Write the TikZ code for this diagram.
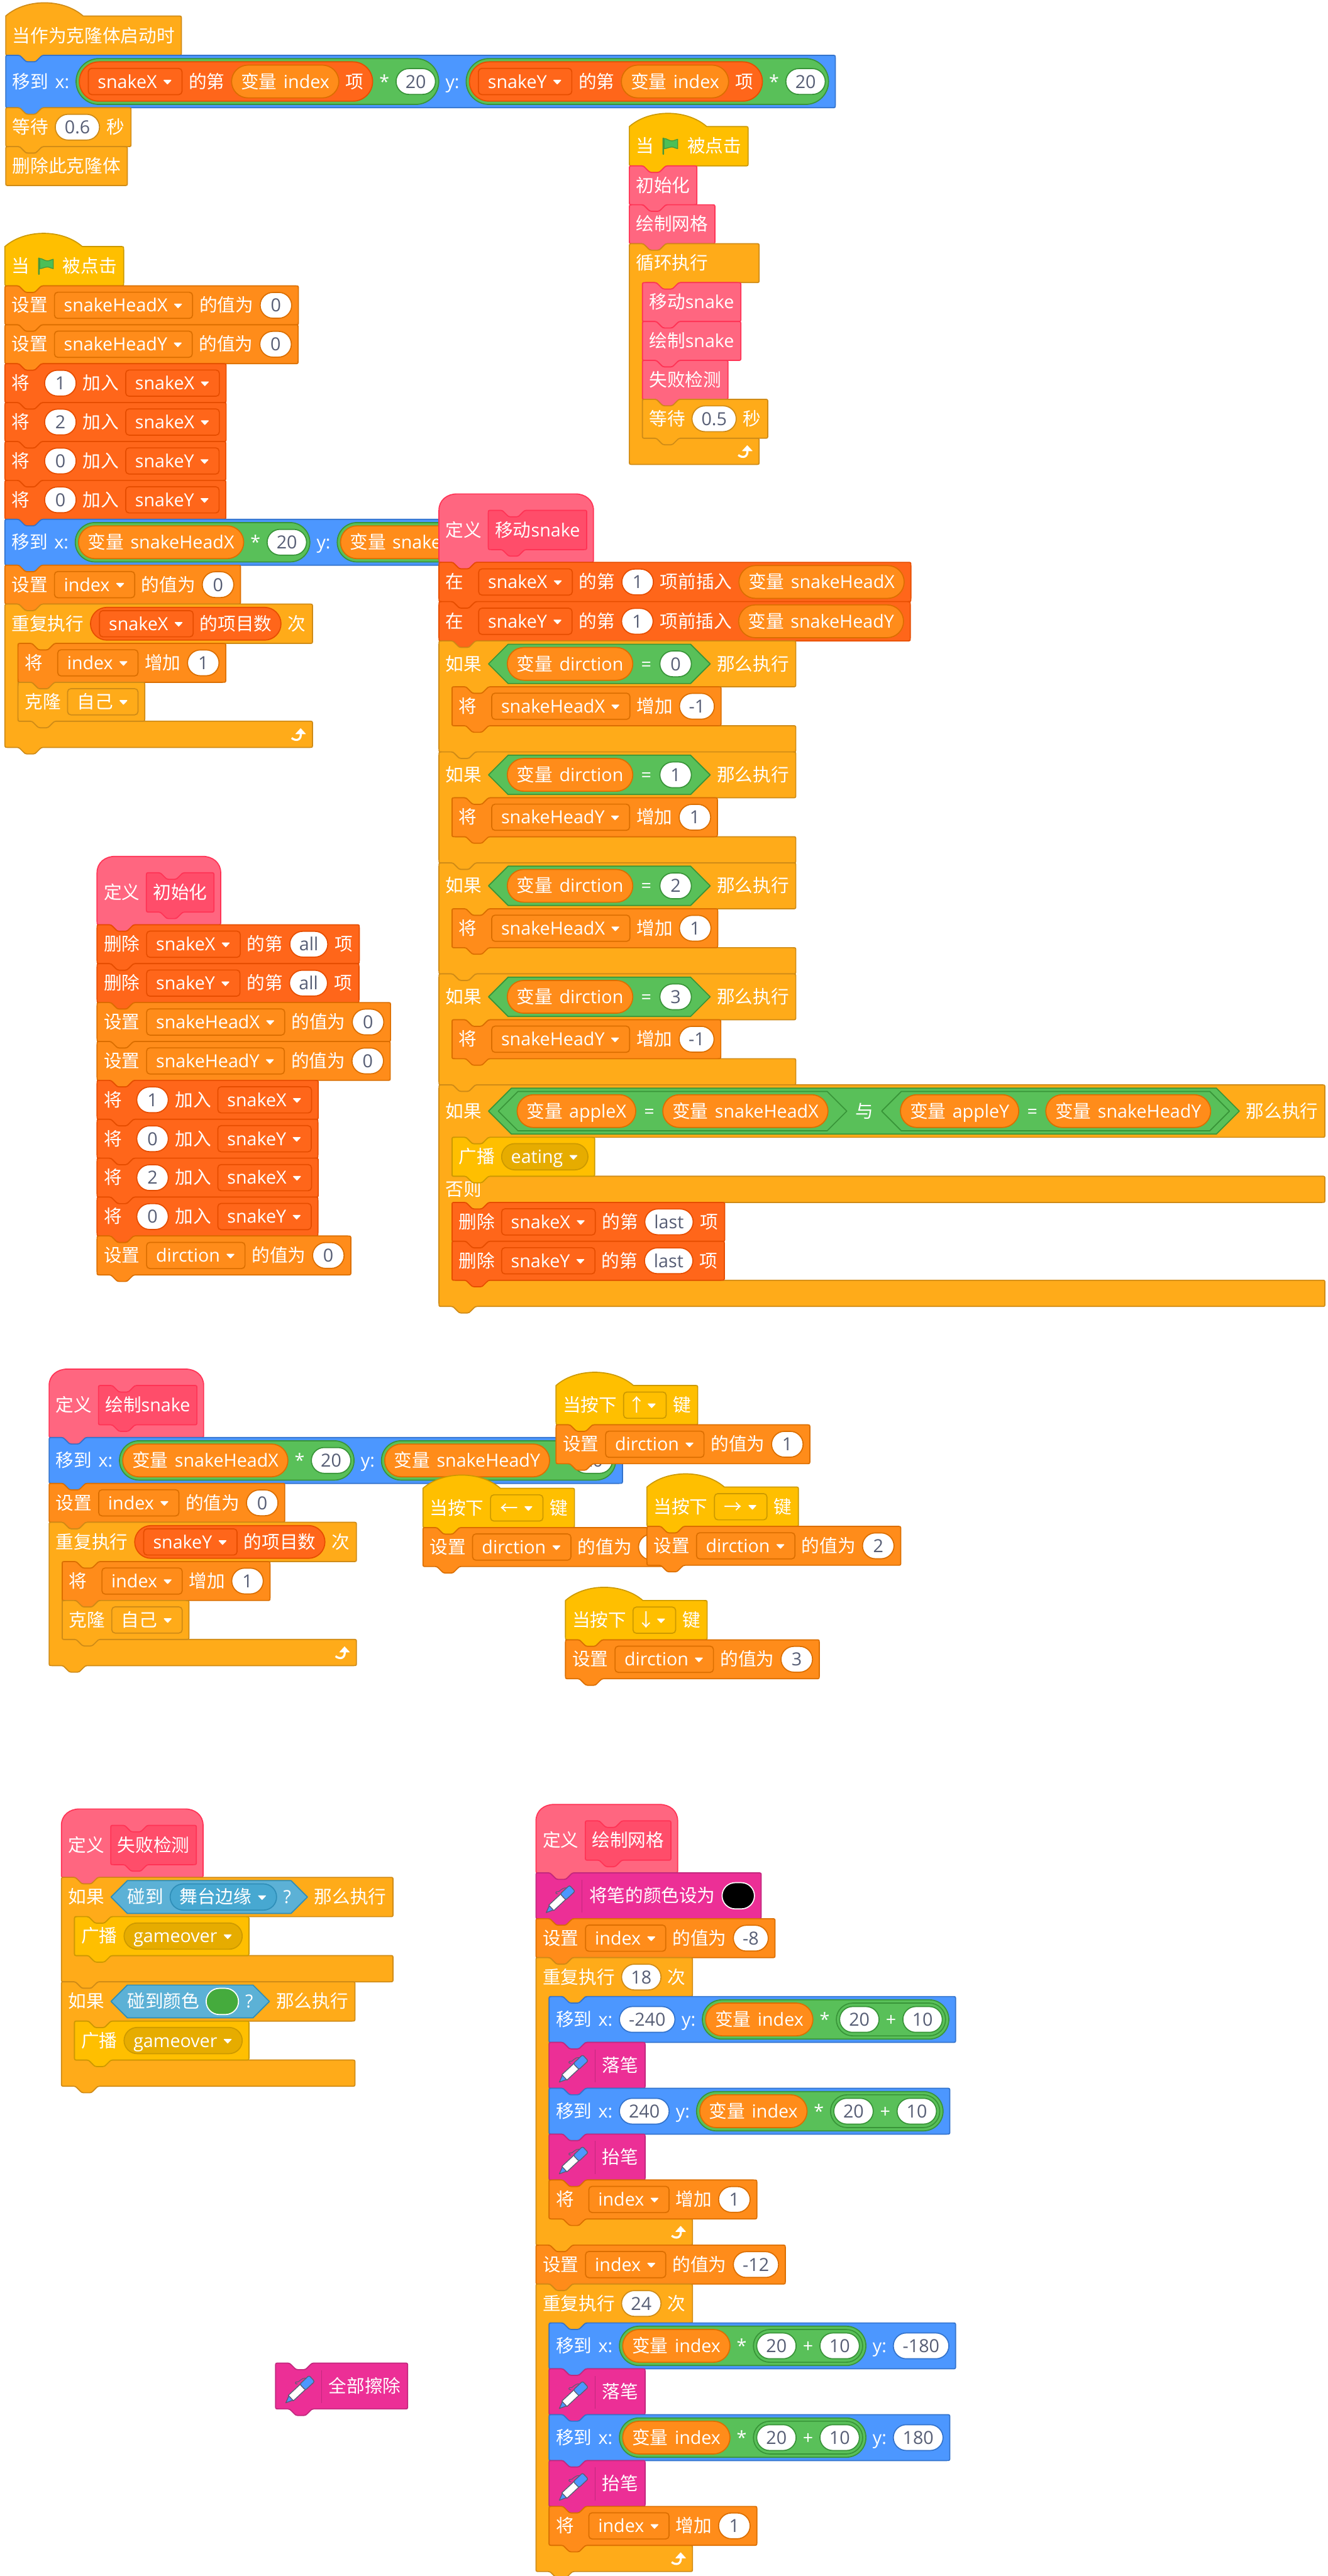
\documentclass[tikz,border=0pt]{standalone}
\usepackage{fontspec}
\setmainfont{Open Sans}
\newfontfamily\cj{Noto Sans CJK SC}
\definecolor{motionF}{HTML}{4C97FF}\definecolor{motionS}{HTML}{3373CC}
\definecolor{controlF}{HTML}{FFAB19}\definecolor{controlS}{HTML}{CF8B17}
\definecolor{eventF}{HTML}{FFBF00}\definecolor{eventS}{HTML}{CC9900}
\definecolor{eventD}{HTML}{E6AC00}
\definecolor{varF}{HTML}{FF8C1A}\definecolor{varS}{HTML}{DB6E00}
\definecolor{listF}{HTML}{FF661A}\definecolor{listS}{HTML}{E64D00}
\definecolor{opF}{HTML}{59C059}\definecolor{opS}{HTML}{389438}
\definecolor{penF}{HTML}{EC2F96}\definecolor{penS}{HTML}{C2287E}
\definecolor{myF}{HTML}{FF6680}\definecolor{myS}{HTML}{FF3355}
\definecolor{myD}{HTML}{FF4D6A}
\definecolor{senseF}{HTML}{5CB1D6}\definecolor{senseS}{HTML}{2E8EB8}
\definecolor{senseD}{HTML}{47A8D1}
\definecolor{numT}{HTML}{575E75}
\definecolor{flagF}{HTML}{4CBF56}\definecolor{flagS}{HTML}{45993D}
\definecolor{touchG}{HTML}{45AB3D}
\newdimen\uu \uu=.25pt
\newdimen\curx \newdimen\cury \newdimen\bx \newdimen\by
\newbox\mb \newbox\tb
\newcount\nc
\newif\ifmeas \newif\iffirst \newif\ifsm
\def\fs{\fontsize{11}{13}\selectfont}
\def\tbx#1{\setbox\tb\hbox{\pgfinterruptpicture\fs#1\endpgfinterruptpicture}}
\makeatletter
\def\pxv#1{\strip@pt\dimexpr(#1)*4\relax}
\makeatother
\def\maxd#1#2{\ifdim\dimexpr#1\relax>\dimexpr#2\relax\dimexpr#1\relax\else\dimexpr#2\relax\fi}
\def\adv#1{\ifmeas\kern#1\relax\else\global\advance\curx by #1\relax\fi}
\def\agap{\iffirst\global\firstfalse\else\adv{16.5\uu}\fi}
\def\measure#1{\setbox\mb\hbox{\meastrue\global\firsttrue #1}\xdef\mW{\the\wd\mb}\xdef\mH{\the\ht\mb}}
\def\setpos#1{\edef\ax{\the\dimexpr\curx+#1\uu\relax}\edef\ay{\the\dimexpr-\cury\relax}}
\def\nLR#1#2{(#1+30,#2) .. controls (#1+34,#2) and (#1+36,#2+2) .. (#1+38,#2+4) -- (#1+46,#2+12) .. controls (#1+48,#2+14) and (#1+50,#2+16) .. (#1+54,#2+16) -- (#1+69,#2+16) .. controls (#1+73,#2+16) and (#1+75,#2+14) .. (#1+77,#2+12) -- (#1+85,#2+4) .. controls (#1+87,#2+2) and (#1+89,#2) .. (#1+93,#2)}
\def\nRL#1#2{(#1+93,#2) .. controls (#1+89,#2) and (#1+87,#2+2) .. (#1+85,#2+4) -- (#1+77,#2+12) .. controls (#1+75,#2+14) and (#1+73,#2+16) .. (#1+69,#2+16) -- (#1+54,#2+16) .. controls (#1+50,#2+16) and (#1+48,#2+14) .. (#1+46,#2+12) -- (#1+38,#2+4) .. controls (#1+36,#2+2) and (#1+34,#2) .. (#1+30,#2)}
\def\dr#1{\edef\tmpb{\noexpand\draw[#1] \pth;}\tmpb}
\def\botR#1{(\wW,#1-8) .. controls (\wW,#1) .. (\wW-8,#1)}
\def\botL#1{(8,#1) .. controls (0,#1) .. (0,#1-8)}
\def\topL{(0,8) .. controls (0,0) .. (8,0)}
\def\topR{(\wW-8,0) .. controls (\wW,0) .. (\wW,8)}
\tikzset{
 sb/.style={fill=#1F,draw=#1S,line width=.65pt,line join=round,x=.25pt,y=-.25pt,shift={(\the\bx,-\the\by)}},
 loc/.style={x=.25pt,y=-.25pt,shift={(\ax,\ay)}},
 tn/.style={inner sep=0pt,outer sep=0pt,anchor=base west,font=\fs},
 pl/.style={line width=.65pt,line join=round}
}
% ---------- inline elements
\def\txt#1#2{\agap
 \tbx{#2}%
 \ifmeas\ht\tb=0pt\dp\tb=0pt\box\tb
 \else
  \edef\tw{\the\wd\tb}\edef\ty{\the\dimexpr-\cury-16\uu\relax}%
  \global\advance\nc 1
  \node[tn,text=#1] (t\the\nc) at (\the\curx,\ty) {#2};%
  \global\advance\curx\tw\relax
 \fi}
\def\tC#1{\txt{white}{\cj #1}}
\def\tL#1{\txt{white}{#1}}
\def\tCL#1#2{\txt{white}{{\cj #1}\kern16\uu #2}}
\def\tCc#1#2{\txt{white}{{\cj #1}#2}}
\def\xg{\adv{20\uu}}
\def\tS#1{\adv{4\uu}\tL{#1}\adv{4\uu}}
\def\drawpill#1#2#3#4#5{% fill stroke w h r
 \edef\xa{\the\curx}\edef\xb{\the\dimexpr\curx+#3\relax}%
 \edef\ya{\the\dimexpr-\cury+#4/2\relax}\edef\yb{\the\dimexpr-\cury-#4/2\relax}%
 \edef\tmpb{\noexpand\filldraw[pl,fill=#1,draw=#2,rounded corners=\the\dimexpr#5\relax] (\xa,\ya) rectangle (\xb,\yb);}\tmpb}
\def\pill#1#2#3#4{\agap
 \begingroup
 \measure{#4}%
 \edef\pw{\the\dimexpr\mW+#2\uu*2\relax}%
 \edef\ph{\the\dimexpr\maxd{\mH*2+16\uu}{#3\uu}\relax}%
 \ifmeas\vrule width\pw height\dimexpr\ph/2\relax depth\dimexpr\ph/2\relax
 \else
  \drawpill{#1F}{#1S}{\pw}{\ph}{\ph/2}%
  \edef\endx{\the\dimexpr\curx+\pw\relax}%
  \def\curF{#1F}\def\curS{#1S}%
  \global\advance\curx #2\uu
  \global\firsttrue #4%
  \global\curx=\endx\relax
 \fi
 \endgroup\global\firstfalse}
\def\hexa#1#2#3#4{\agap
 \begingroup
 \measure{#4}%
 \edef\pw{\the\dimexpr\mW+#2\uu*2\relax}%
 \edef\ph{\the\dimexpr\maxd{\mH*2+16\uu}{#3\uu}\relax}%
 \ifmeas\vrule width\pw height\dimexpr\ph/2\relax depth\dimexpr\ph/2\relax
 \else
  \setpos{0}\edef\wW{\pxv{\pw}}\edef\hH{\pxv{\ph/2}}%
  \edef\pth{(0,0) -- (\hH,-\hH) -- (\wW-\hH,-\hH) -- (\wW,0) -- (\wW-\hH,\hH) -- (\hH,\hH) -- cycle}%
  \dr{pl,loc,fill=#1F,draw=#1S}%
  \edef\endx{\the\dimexpr\curx+\pw\relax}%
  \def\curF{#1F}\def\curS{#1S}%
  \global\advance\curx #2\uu
  \global\firsttrue #4%
  \global\curx=\endx\relax
 \fi
 \endgroup\global\firstfalse}
\def\nN#1{\agap
 \tbx{#1}%
 \edef\pw{\the\dimexpr\maxd{\wd\tb+46\uu}{77\uu}\relax}%
 \ifmeas\vrule width\pw height31.5\uu depth31.5\uu
 \else
  \drawpill{white}{\curS}{\pw}{63\uu}{31.5\uu}%
  \edef\tx{\the\dimexpr\curx+\pw/2-\wd\tb/2\relax}\edef\ty{\the\dimexpr-\cury-16\uu\relax}%
  \global\advance\nc 1
  \node[tn,text=numT] (t\the\nc) at (\tx,\ty) {#1};%
  \global\advance\curx\pw\relax
 \fi}
\def\drop#1#2#3#4{\agap
 \tbx{#4}%
 \edef\pw{\the\dimexpr\wd\tb+84\uu\relax}%
 \ifmeas\vrule width\pw height32\uu depth32\uu
 \else
  \drawpill{#1}{#2}{\pw}{64\uu}{#3\uu}%
  \edef\tx{\the\dimexpr\curx+23\uu\relax}\edef\ty{\the\dimexpr-\cury-16\uu\relax}%
  \edef\tw{\the\wd\tb}%
  \global\advance\nc 1
  \node[tn,text=white] (t\the\nc) at (\tx,\ty) {#4};%
  \edef\ax{\the\dimexpr\curx+38\uu+\tw\relax}\edef\ay{\the\dimexpr-\cury\relax}%
  \filldraw[loc,white,line width=.5pt,line join=round] (2,-3) -- (19,-3) -- (10.5,6) -- cycle;%
  \global\advance\curx\pw\relax
 \fi}
\def\dD#1{\drop{\curF}{\curS}{8}{#1}}
\def\dC#1{\drop{\curF}{\curS}{8}{\cj #1}}
\def\dK#1#2{\drop{\curF}{\curS}{8}{\hbox to #1\uu{\hss\cj #2\hss}}}
\def\dB#1{\drop{eventD}{eventS}{32}{#1}}
\def\dS#1{\drop{senseD}{senseS}{32}{\cj #1}}
\def\colp#1{\agap
 \ifmeas\vrule width79\uu height32\uu depth32\uu
 \else
  \drawpill{#1}{white}{79\uu}{64\uu}{32\uu}%
  \global\advance\curx 79\uu
 \fi}
\def\vV#1{\pill{var}{23}{80}{\tCL{变量}{#1}}}
\def\lS#1{\pill{list}{22}{80}{#1}}
\def\oP#1{\pill{op}{8}{80}{#1}}
\def\times#1{\oP{\vV{#1}\tL{*}\nN{20}}}
\def\tpt#1{\oP{\vV{#1}\tL{*}\oP{\nN{20}\tL{+}\nN{10}}}}
\def\eQ#1#2{\hexa{op}{46}{96}{#1\tS{=}#2}}
\def\flag{\agap
 \ifmeas\vrule width48\uu height0pt depth0pt
 \else
  \setpos{0}%
  \filldraw[loc,fill=flagF,draw=flagS,line width=.5pt,line join=round] (8,-19) .. controls (14,-19) and (20,-13) .. (27,-13) .. controls (33,-13) and (37,-17) .. (41,-17) -- (41,6) .. controls (36,6) and (33,2) .. (27,2) .. controls (20,2) and (14,6) .. (8,6) -- cycle;%
  \fill[loc,flagS,rounded corners=.4pt] (4,-21) rectangle (8,21);%
  \global\advance\curx 48\uu
 \fi}
\def\penI{\agap
 \ifmeas\vrule width97\uu height48\uu depth48\uu
 \else
  \setpos{-16.5}%
  \draw[loc,penS,line width=.5pt] (112,-39) -- (112,41);%
  \draw[loc,numT,line width=.4pt,line cap=round] (53,-5) .. controls (46,-4) and (48,-11) .. (52,-10) .. controls (58,-7) and (60,-21) .. (76,-19);%
  \begin{scope}[loc,shift={(25,41)},rotate=43]
   \filldraw[fill=motionF,draw=numT,line width=.5pt,line join=round] (0,0) -- (19,-8) -- (19,8) -- cycle;
   \filldraw[fill=white,draw=numT,line width=.5pt,line join=round] (17,-9) -- (58,-9) -- (58,9) -- (17,9) -- cycle;
   \filldraw[fill=motionF,draw=numT,line width=.5pt,line join=round,rounded corners=1pt] (56,-10) -- (87,-10) -- (87,10) -- (56,10) -- cycle;
  \end{scope}%
  \global\advance\curx 97\uu
 \fi}
% ---------- stack blocks
\def\stk#1#2{\global\bx=#1\uu\relax\global\by=#2\uu\relax}
\def\inner#1#2{\def\curF{#1F}\def\curS{#1S}\global\firsttrue #2}
\newcommand\blkraw[3]{%
 \begingroup
 \measure{#3}%
 \edef\dW{\the\dimexpr\mW+33\uu\relax}%
 \edef\dH{\the\dimexpr\maxd{\mH*2+16\uu}{95\uu}\relax}%
 \ifsm\else
  \edef\wW{\pxv{\dW}}\edef\hH{\pxv{\dH}}%
  \edef\pth{\topL -- \nLR{0}{0} -- \topR -- \botR{\hH} -- \ifnum#2=1 \nRL{0}{\hH} -- \fi \botL{\hH} -- cycle}%
  \dr{sb=#1}%
  \global\curx=\dimexpr\bx+16.5\uu\relax
  \global\cury=\dimexpr\by+\dH/2\relax
  \inner{#1}{#3}%
 \fi
 \global\advance\by\dH\relax
 \endgroup}
\newcommand\blk[2]{\blkraw{#1}{1}{#2}}
\newcommand\hatb[2]{%
 \begingroup
 \measure{#2}%
 \edef\dW{\the\dimexpr\mW+33\uu\relax}%
 \edef\dH{\the\dimexpr\maxd{\mH*2+16\uu}{96\uu}\relax}%
 \edef\wW{\pxv{\dW}}\edef\hH{\pxv{\dH+32\uu}}%
 \edef\pth{(0,32) .. controls (49,-11) and (140,-11) .. (189,32) -- (\wW-8,32) .. controls (\wW,32) .. (\wW,40) -- \botR{\hH} -- \nRL{0}{\hH} -- \botL{\hH} -- cycle}%
 \dr{sb=#1}%
 \global\curx=\dimexpr\bx+16.5\uu\relax
 \global\cury=\dimexpr\by+32\uu+\dH/2\relax
 \inner{#1}{#2}%
 \global\advance\by\dimexpr\dH+32\uu\relax
 \endgroup}
\newcommand\defb[1]{%
 \begingroup
 \tbx{#1}%
 \edef\tw{\the\wd\tb}%
 \edef\iW{\the\dimexpr\tw+33\uu\relax}%
 \edef\dW{\the\dimexpr\iW+137\uu\relax}%
 \edef\wW{\pxv{\dW}}\edef\hH{167}%
 \edef\pth{(0,40) .. controls (0,15) and (20,0) .. (44,0) -- (\wW-44,0) .. controls (\wW-20,0) and (\wW,15) .. (\wW,40) -- \botR{\hH} -- \nRL{0}{\hH} -- \botL{\hH} -- cycle}%
 \dr{sb=my}%
 \global\curx=\dimexpr\bx+16.5\uu\relax
 \global\cury=\dimexpr\by+88\uu\relax
 \inner{my}{\tC{定义}}%
 \edef\ax{\the\dimexpr\bx+120.5\uu\relax}\edef\ay{\the\dimexpr-\by-40\uu\relax}%
 \edef\wW{\pxv{\iW}}\edef\hH{96}%
 \edef\pth{\topL -- \nLR{0}{0} -- \topR -- \botR{\hH} -- \nRL{0}{\hH} -- \botL{\hH} -- cycle}%
 \dr{loc,fill=myD,draw=myS,line width=.65pt,line join=round}%
 \global\curx=\dimexpr\bx+137\uu\relax
 \global\firsttrue
 \txt{white}{#1}%
 \global\advance\by 167\uu
 \endgroup}
\newcommand\cblk[5]{% key bump arrow head inner
 \begingroup
 \measure{#4}%
 \edef\dW{\the\dimexpr\maxd{\mW+33\uu}{317\uu}\relax}%
 \edef\dH{\the\dimexpr\maxd{\mH*2+16\uu}{95\uu}\relax}%
 \edef\ctop{\the\by}%
 \ifsm
  \global\advance\by\dH\relax
  #5%
  \global\advance\by 64\uu
 \else
  \global\advance\by\dH\relax
  \edef\ibeg{\the\by}%
  {\smtrue #5}%
  \edef\iH{\the\dimexpr\by-\ibeg\relax}%
  \global\by=\ctop\relax
  \edef\wW{\pxv{\dW}}\edef\Ha{\pxv{\dH}}\edef\Ib{\pxv{\dH+\iH}}\edef\Ic{\pxv{\dH+\iH+64\uu}}%
  \edef\pth{\topL -- \nLR{0}{0} -- \topR -- \botR{\Ha} -- \nRL{32}{\Ha} -- (40,\Ha) .. controls (32,\Ha) .. (32,\Ha+8) -- (32,\Ib-8) .. controls (32,\Ib) .. (40,\Ib) -- (\wW-8,\Ib) .. controls (\wW,\Ib) .. (\wW,\Ib+8) -- \botR{\Ic} -- \ifnum#2=1 \nRL{0}{\Ic} -- \fi \botL{\Ic} -- cycle}%
  \dr{sb=#1}%
  \ifnum#3=1
   \edef\ax{\the\dimexpr\bx+\dW\relax}\edef\ay{\the\dimexpr-\by-\dH-\iH-64\uu\relax}%
   \draw[loc,white,line width=1.25pt] (-51,-23) .. controls (-40,-14) and (-26,-18) .. (-29,-36);%
   \filldraw[loc,white,line width=.3pt,line join=round] (-41,-33) -- (-29,-46) -- (-17,-33) -- cycle;%
  \fi
  \global\curx=\dimexpr\bx+16.5\uu\relax
  \global\cury=\dimexpr\by+\dH/2\relax
  \inner{#1}{#4}%
  \global\by=\ibeg\relax
  \global\advance\bx 32\uu
  #5%
  \global\advance\bx -32\uu
  \global\advance\by 64\uu
 \fi
 \endgroup}
\newcommand\ifelseb[4]{% head innerA label innerB (control colour)
 \begingroup
 \measure{#1}%
 \edef\dW{\the\dimexpr\maxd{\mW+33\uu}{317\uu}\relax}%
 \edef\dH{\the\dimexpr\maxd{\mH*2+16\uu}{95\uu}\relax}%
 \edef\ctop{\the\by}%
 \global\advance\by\dH\relax
 \edef\ibeg{\the\by}%
 {\smtrue #2}%
 \edef\iHa{\the\dimexpr\by-\ibeg\relax}%
 \edef\ibegb{\the\dimexpr\by+64\uu\relax}%
 \global\by=\ibegb\relax
 {\smtrue #4}%
 \edef\iHb{\the\dimexpr\by-\ibegb\relax}%
 \global\by=\ctop\relax
 \edef\wW{\pxv{\dW}}\edef\Ha{\pxv{\dH}}\edef\Ib{\pxv{\dH+\iHa}}\edef\Ic{\pxv{\dH+\iHa+64\uu}}%
 \edef\Id{\pxv{\dH+\iHa+64\uu+\iHb}}\edef\Ie{\pxv{\dH+\iHa+128\uu+\iHb}}%
 \edef\pth{\topL -- \nLR{0}{0} -- \topR -- \botR{\Ha} -- \nRL{32}{\Ha} -- (40,\Ha) .. controls (32,\Ha) .. (32,\Ha+8) -- (32,\Ib-8) .. controls (32,\Ib) .. (40,\Ib) -- (\wW-8,\Ib) .. controls (\wW,\Ib) .. (\wW,\Ib+8) -- \botR{\Ic} -- \nRL{32}{\Ic} -- (40,\Ic) .. controls (32,\Ic) .. (32,\Ic+8) -- (32,\Id-8) .. controls (32,\Id) .. (40,\Id) -- (\wW-8,\Id) .. controls (\wW,\Id) .. (\wW,\Id+8) -- \botR{\Ie} -- \nRL{0}{\Ie} -- \botL{\Ie} -- cycle}%
 \dr{sb=control}%
 \global\curx=\dimexpr\bx+16.5\uu\relax
 \global\cury=\dimexpr\by+\dH/2\relax
 \inner{control}{#1}%
 \global\curx=\dimexpr\bx+16.5\uu\relax
 \global\cury=\dimexpr\ibeg+\iHa+32\uu\relax
 \inner{control}{#3}%
 \global\by=\ibeg\relax
 \global\advance\bx 32\uu
 #2%
 \global\by=\ibegb\relax
 #4%
 \global\advance\bx -32\uu
 \global\advance\by 64\uu
 \endgroup}
\def\setv#1#2{\blk{var}{\tC{设置}\dD{#1}\tC{的值为}\nN{#2}}}
\def\incv#1#2{\blk{var}{\tC{将}\xg\dD{#1}\tC{增加}\nN{#2}}}
\def\addl#1#2{\blk{list}{\tC{将}\xg\nN{#1}\tC{加入}\dD{#2}}}
\def\dell#1#2{\blk{list}{\tC{删除}\dD{#1}\tC{的第}\nN{#2}\tC{项}}}
\def\mycall#1{\blk{my}{#1}}
\def\penb#1{\blk{pen}{\penI\tC{#1}}}
\def\keyb#1#2#3#4#5{\stk{#1}{#2}\hatb{event}{\tC{当按下}\dK{#3}{#4}\tC{键}}\setv{dirction}{#5}}
\def\dirif#1#2#3{\cblk{control}{1}{0}{\tC{如果}\eQ{\vV{dirction}}{\nN{#1}}\tC{那么执行}}{\incv{#2}{#3}}}
\begin{document}
\begin{tikzpicture}
\useasboundingbox (0,0) rectangle (810.75pt,-1572.5pt);
% clone start
\stk{14}{7}
\hatb{control}{\tC{当作为克隆体启动时}}
\blk{motion}{\tCL{移到}{x:}\oP{\lS{\dD{snakeX}\tC{的第}\vV{index}\tC{项}}\tL{*}\nN{20}}\tL{y:}\oP{\lS{\dD{snakeY}\tC{的第}\vV{index}\tC{项}}\tL{*}\nN{20}}}
\blk{control}{\tC{等待}\nN{0.6}\tC{秒}}
\blkraw{control}{0}{\tC{删除此克隆体}}
% main flag
\stk{1537}{277}
\hatb{event}{\tC{当}\flag\tC{被点击}}
\mycall{\tC{初始化}}
\mycall{\tC{绘制网格}}
\cblk{control}{0}{1}{\tC{循环执行}}{%
 \mycall{\tCc{移动}{snake}}%
 \mycall{\tCc{绘制}{snake}}%
 \mycall{\tC{失败检测}}%
 \blk{control}{\tC{等待}\nN{0.5}\tC{秒}}}
% snake init flag
\stk{12}{570}
\hatb{event}{\tC{当}\flag\tC{被点击}}
\setv{snakeHeadX}{0}
\setv{snakeHeadY}{0}
\addl{1}{snakeX}
\addl{2}{snakeX}
\addl{0}{snakeY}
\addl{0}{snakeY}
\blk{motion}{\tCL{移到}{x:}\times{snakeHeadX}\tL{y:}\times{snakeHeadY}}
\setv{index}{0}
\cblk{control}{1}{1}{\tC{重复执行}\lS{\dD{snakeX}\tC{的项目数}}\tC{次}}{%
 \incv{index}{1}%
 \blk{control}{\tC{克隆}\dC{自己}}}
% def init
\stk{237}{2091}
\defb{\cj 初始化}
\dell{snakeX}{all}
\dell{snakeY}{all}
\setv{snakeHeadX}{0}
\setv{snakeHeadY}{0}
\addl{1}{snakeX}
\addl{0}{snakeY}
\addl{2}{snakeX}
\addl{0}{snakeY}
\setv{dirction}{0}
% def move
\stk{1072}{1206}
\defb{{\cj 移动}snake}
\blk{list}{\tC{在}\xg\dD{snakeX}\tC{的第}\nN{1}\tC{项前插入}\vV{snakeHeadX}}
\blk{list}{\tC{在}\xg\dD{snakeY}\tC{的第}\nN{1}\tC{项前插入}\vV{snakeHeadY}}
\dirif{0}{snakeHeadX}{-1}
\dirif{1}{snakeHeadY}{1}
\dirif{2}{snakeHeadX}{1}
\dirif{3}{snakeHeadY}{-1}
\ifelseb{\tC{如果}\hexa{op}{24}{96}{\eQ{\vV{appleX}}{\vV{snakeHeadX}}\adv{4\uu}\tC{与}\adv{4\uu}\eQ{\vV{appleY}}{\vV{snakeHeadY}}}\tC{那么执行}}%
 {\blk{event}{\tC{广播}\dB{eating}}}%
 {\tC{否则}}%
 {\dell{snakeX}{last}\dell{snakeY}{last}}
% def draw snake
\stk{120}{3343}
\defb{{\cj 绘制}snake}
\blk{motion}{\tCL{移到}{x:}\times{snakeHeadX}\tL{y:}\times{snakeHeadY}}
\setv{index}{0}
\cblk{control}{1}{1}{\tC{重复执行}\lS{\dD{snakeY}\tC{的项目数}}\tC{次}}{%
 \incv{index}{1}%
 \blk{control}{\tC{克隆}\dC{自己}}}
% keys
\keyb{1358}{3351}{20}{↑}{1}
\keyb{1033}{3602}{44}{←}{0}
\keyb{1580}{3599}{44}{→}{2}
\keyb{1381}{3876}{20}{↓}{3}
% def fail
\stk{150}{4417}
\defb{\cj 失败检测}
\cblk{control}{1}{0}{\tC{如果}\hexa{sense}{40}{80}{\tC{碰到}\dS{舞台边缘}\tL{?}}\tC{那么执行}}{\blk{event}{\tC{广播}\dB{gameover}}}
\cblk{control}{1}{0}{\tC{如果}\hexa{sense}{40}{80}{\tC{碰到颜色}\colp{touchG}\tL{?}}\tC{那么执行}}{\blk{event}{\tC{广播}\dB{gameover}}}
% def grid
\stk{1309}{4406}
\defb{\cj 绘制网格}
\blk{pen}{\penI\tC{将笔的颜色设为}\colp{black}}
\setv{index}{-8}
\cblk{control}{1}{1}{\tC{重复执行}\nN{18}\tC{次}}{%
 \blk{motion}{\tCL{移到}{x:}\nN{-240}\tL{y:}\tpt{index}}%
 \penb{落笔}%
 \blk{motion}{\tCL{移到}{x:}\nN{240}\tL{y:}\tpt{index}}%
 \penb{抬笔}%
 \incv{index}{1}}
\setv{index}{-12}
\cblk{control}{1}{1}{\tC{重复执行}\nN{24}\tC{次}}{%
 \blk{motion}{\tCL{移到}{x:}\tpt{index}\tL{y:}\nN{-180}}%
 \penb{落笔}%
 \blk{motion}{\tCL{移到}{x:}\tpt{index}\tL{y:}\nN{180}}%
 \penb{抬笔}%
 \incv{index}{1}}
% erase
\stk{673}{5770}
\penb{全部擦除}
\end{tikzpicture}
\end{document}
